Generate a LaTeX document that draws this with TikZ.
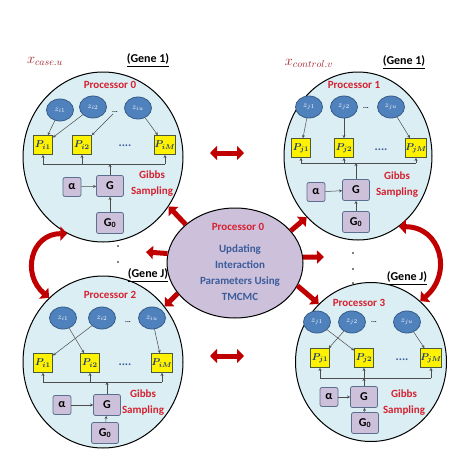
\documentclass[tikz,border=0pt]{standalone}
\usepackage{amsmath,amssymb}
\usepackage{fontspec}
\setmainfont{Carlito}
\usepackage{tikz}
\usetikzlibrary{shapes.geometric,arrows.meta}

\definecolor{cellblue}{HTML}{DAEEF3}
\definecolor{lilac}{HTML}{CCC0DA}
\definecolor{zblue}{HTML}{4F81BD}
\definecolor{zedge}{HTML}{385D8A}
\definecolor{procred}{HTML}{D7202F}
\definecolor{darkred}{HTML}{A31F2B}
\definecolor{arrowred}{HTML}{C00000}
\definecolor{navytext}{HTML}{3B5C9B}
\definecolor{boxedge}{HTML}{5B6F8E}
\definecolor{pedge}{HTML}{4A5A3A}
\definecolor{ptext}{HTML}{1F3D7A}

\begin{document}
\begin{tikzpicture}[x=1pt, y=-1pt,
                        thick,
                        cell node/.style={ellipse, draw, fill=cellblue, inner sep=0pt, line width=1pt},
                        mid node/.style={ellipse, draw, fill=lilac, inner sep=0pt, line width=1pt},
                        z node/.style={ellipse, draw=zedge, fill=zblue, text=white, inner sep=0pt, minimum width=27pt, minimum height=22pt, font=\footnotesize},
                        p node/.style={draw=pedge, fill=yellow, line width=0.8pt, minimum size=19pt, inner sep=0pt, text=ptext, font=\boldmath},
                        g node/.style={draw=boxedge, fill=lilac, rounded corners=2pt, line width=0.8pt, minimum width=27pt, minimum height=21pt, inner sep=0pt, font=\bfseries\large},
                        a node/.style={g node, minimum width=18pt, minimum height=19pt},
                        proc label/.style={text=procred, font=\bfseries\fontsize{11}{16}\selectfont},
                        gibbs label/.style={text=procred, align=center, font=\bfseries\fontsize{11}{16}\selectfont},
                        gene label/.style={font=\bfseries\fontsize{12}{14}\selectfont},
                        math label/.style={text=darkred, font=\Large},
                        z dots/.style={font=\scriptsize\bfseries, inner sep=1pt},
                        p dots/.style={text=navytext, font=\bfseries\large},
                        link/.style={draw=black!70, line width=0.5pt, -{Stealth[length=3pt,width=3pt]}},
                        bus/.style={draw=black!70, line width=0.5pt},
                        big arrow/.style={draw=arrowred, line width=5pt, arrows={-Triangle[length=7pt,width=13pt]}},
                        twin arrow/.style={draw=arrowred, line width=5pt, arrows={Triangle[length=7pt,width=14pt]-Triangle[length=7pt,width=14pt]}}]

      \useasboundingbox (0,0) rectangle (474,474);

      % the four processors
      \node[cell node, minimum width=160pt, minimum height=170pt] (A) at (103,157) {};
      \node[cell node, minimum width=148pt, minimum height=168pt] (B) at (358,156) {};
      \node[cell node, minimum width=160pt, minimum height=172pt] (C) at (103,362) {};
      \node[cell node, minimum width=151pt, minimum height=159pt] (D) at (371,362) {};
      \node[mid node, minimum width=136pt, minimum height=110pt] (mid) at (235,263) {};

      \node[text=procred, font=\bfseries\fontsize{11}{16}\selectfont] (m0) at (238,227) {Processor 0};
      \node[text=navytext, align=center, font=\bfseries\fontsize{11}{16}\selectfont] (m1) at (240,273)
            {Updating\\Interaction\\Parameters Using\\TMCMC};

      % processor 0
      \node[math label] (x0) at (45,61) {$x_{case.u}$};
      \node[gene label] (n0) at (148,60) {\underline{(Gene 1)}};
      \node[proc label] (t0) at (110,85) {Processor 0};
      \node[z node] (z01) at (60,110) {$z_{i1}$};
      \node[z node] (z02) at (93,107) {$z_{i2}$};
      \node[z dots] (z0d) at (115,112) {...};
      \node[z node] (z0u) at (138,108) {$z_{iu}$};
      \node[p node] (p01) at (43,145) {$P_{i1}$};
      \node[p node] (p02) at (82,145) {$P_{i2}$};
      \node[p dots] (p0d) at (125,146) {....};
      \node[p node] (p0M) at (165,145) {$P_{iM}$};
      \coordinate (bus0) at (0,164);
      \node[a node] (a0) at (72,187) {α};
      \node[g node] (g0) at (110,186) {G};
      \node[g node] (gz0) at (110,223) {G\textsubscript{0}};
      \node[gibbs label] (s0) at (152,184) {Gibbs\\Sampling};

      \draw[link] (z01) -- (p01);
      \draw[link] (z02) -- (p01);
      \draw[link] (z0d) -- (p02);
      \draw[link] (z0u) -- (p0M);
      \draw[bus] (p01.south |- bus0) -- (p0M.south |- bus0);
      \draw[link] (p01.south |- bus0) -- (p01);
      \draw[link] (p02.south |- bus0) -- (p02);
      \draw[link] (p0M.south |- bus0) -- (p0M);
      \draw[link] (g0) -- (g0 |- bus0);
      \draw[link] (a0) -- (g0);
      \draw[link] (gz0) -- (g0);

      % processor 1
      \node[math label] (x1) at (309,63) {$x_{control.v}$};
      \node[gene label] (n1) at (404,62) {\underline{(Gene 1)}};
      \node[proc label] (t1) at (354,85) {Processor 1};
      \node[z node] (z11) at (309,107) {$z_{j1}$};
      \node[z node] (z12) at (344,107) {$z_{j2}$};
      \node[z dots] (z1d) at (366,108) {...};
      \node[z node] (z1u) at (391,107) {$z_{ju}$};
      \node[p node] (p11) at (301,148) {$P_{j1}$};
      \node[p node] (p12) at (344,148) {$P_{j2}$};
      \node[p dots] (p1d) at (381,150) {....};
      \node[p node] (p1M) at (416,148) {$P_{jM}$};
      \coordinate (bus1) at (0,163);
      \node[a node] (a1) at (316,192) {α};
      \node[g node] (g1) at (356,190) {G};
      \node[g node] (gz1) at (356,222) {G\textsubscript{0}};
      \node[gibbs label] (s1) at (397,185) {Gibbs\\Sampling};

      \draw[link] (z11) -- (p11);
      \draw[link] (z12) -- (p12);
      \draw[link] (z1u) -- (p1M);
      \draw[bus] (p11.south |- bus1) -- (p1M.south |- bus1);
      \draw[link] (p11.south |- bus1) -- (p11);
      \draw[link] (p12.south |- bus1) -- (p12);
      \draw[link] (p1M.south |- bus1) -- (p1M);
      \draw[link] (g1) -- (g1 |- bus1);
      \draw[link] (a1) -- (g1);
      \draw[link] (gz1) -- (g1);

      % processor 2
      \node[gene label] (n2) at (148,275) {\underline{(Gene J)}};
      \node[proc label] (t2) at (110,295) {Processor 2};
      \node[z node] (z21) at (63,318) {$z_{i1}$};
      \node[z node] (z22) at (102,318) {$z_{i2}$};
      \node[z dots] (z2d) at (128,322) {...};
      \node[z node] (z2u) at (152,318) {$z_{iu}$};
      \node[p node] (p21) at (43,363) {$P_{i1}$};
      \node[p node] (p22) at (90,363) {$P_{i2}$};
      \node[p dots] (p2d) at (125,365) {....};
      \node[p node] (p2M) at (162,363) {$P_{iM}$};
      \coordinate (bus2) at (0,382);
      \node[a node] (a2) at (62,405) {α};
      \node[g node] (g2) at (107,405) {G};
      \node[g node] (gz2) at (105,433) {G\textsubscript{0}};
      \node[gibbs label] (s2) at (143,403) {Gibbs\\Sampling};

      \draw[link] (z22) -- (p21);
      \draw[link] (z21) -- (p22);
      \draw[link] (z2u) -- (p2M);
      \draw[bus] (p21.south |- bus2) -- (p2M.south |- bus2);
      \draw[link] (p21.south |- bus2) -- (p21);
      \draw[link] (p22.south |- bus2) -- (p22);
      \draw[link] (p2M.south |- bus2) -- (p2M);
      \draw[link] (g2) -- (g2 |- bus2);
      \draw[link] (a2) -- (g2);
      \draw[link] (gz2) -- (g2);

      % processor 3
      \node[gene label] (n3) at (407,278) {\underline{(Gene J)}};
      \node[proc label] (t3) at (359,303) {Processor 3};
      \node[z node] (z31) at (317,322) {$z_{j1}$};
      \node[z node] (z32) at (352,322) {$z_{j2}$};
      \node[z dots] (z3d) at (374,322) {...};
      \node[z node] (z3u) at (407,322) {$z_{ju}$};
      \node[p node] (p31) at (320,358) {$P_{j1}$};
      \node[p node] (p32) at (364,358) {$P_{j2}$};
      \node[p dots] (p3d) at (402,360) {....};
      \node[p node] (p3M) at (431,358) {$P_{jM}$};
      \coordinate (bus3) at (0,378);
      \node[a node] (a3) at (329,397) {α};
      \node[g node] (g3) at (364,397) {G};
      \node[g node] (gz3) at (365,423) {G\textsubscript{0}};
      \node[gibbs label] (s3) at (404,403) {Gibbs\\Sampling};

      \draw[link] (z31) -- (p32);
      \draw[link] (z32) -- (p31);
      \draw[link] (z3u) -- (p3M);
      \draw[bus] (p31.south |- bus3) -- (p3M.south |- bus3);
      \draw[link] (p31.south |- bus3) -- (p31);
      \draw[link] (p32.south |- bus3) -- (p32);
      \draw[link] (p3M.south |- bus3) -- (p3M);
      \draw[link] (g3) -- (g3 |- bus3);
      \draw[link] (a3) -- (g3);
      \draw[link] (gz3) -- (g3);

      % gene dots
      \fill (118,246) circle (0.9pt);
      \fill (118,262) circle (0.9pt);
      \fill (353,253) circle (0.9pt);
      \fill (353,269) circle (0.9pt);
      \fill (353,283) circle (0.9pt);

      % red arrows
      \coordinate (lefttip) at (146,252);
      \coordinate (righttip) at (324,257);
      \coordinate (top1) at (210,153);
      \coordinate (top2) at (244,153);
      \coordinate (bot1) at (210,356);
      \coordinate (bot2) at (244,356);

      \draw[big arrow] (mid.142) -- (A.323);
      \draw[big arrow] (mid.30) -- (B.230);
      \draw[big arrow] (mid.208) -- (C.42);
      \draw[big arrow] (mid.340) -- (D.132);
      \draw[big arrow] (mid.172) -- (lefttip);
      \draw[big arrow] (mid.5) -- (righttip);
      \draw[twin arrow] (top1) -- (top2);
      \draw[twin arrow] (bot1) -- (bot2);
      \draw[twin arrow] (A.245) to[out=180, in=140, looseness=1.4] (C.130);
      \draw[twin arrow] (B.300) to[out=0, in=40, looseness=1.4] (D.51);

    \end{tikzpicture}
\end{document}
